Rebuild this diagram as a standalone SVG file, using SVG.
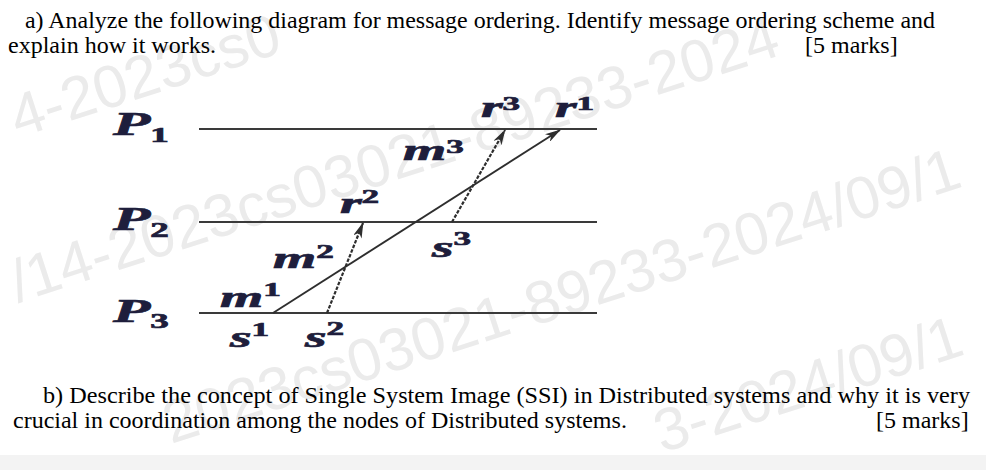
<svg xmlns="http://www.w3.org/2000/svg" width="986" height="470" viewBox="0 0 986 470">
<style>
.q{font-family:"Liberation Serif","Times New Roman",serif;font-size:24px;fill:#000}
.wm{font-family:"Liberation Sans",Arial,sans-serif;font-size:60px;fill:#ebebeb}
.lb{font-family:"Liberation Serif","Times New Roman",serif;font-weight:bold;font-style:italic;font-size:30px;fill:#1e1e3c;stroke:#1e1e3c;stroke-width:0.7}
.sp{font-style:normal;font-size:19px}
.pl{font-family:"Liberation Serif","Times New Roman",serif;font-weight:bold;font-style:italic;font-size:33px;fill:#1e1e3c;stroke:#1e1e3c;stroke-width:0.7}
.sb{font-style:normal;font-size:20px}
.tl{stroke:#3a3a3a;stroke-width:2.2}
.msg{stroke:#2e2e2e;stroke-width:1.9;fill:none;marker-end:url(#ah)}
.dash{stroke-dasharray:3.5 1.5;stroke-width:2.2}
</style>
<defs>
<marker id="ah" viewBox="0 0 16 9" refX="15" refY="4.5" markerWidth="16" markerHeight="9" markerUnits="userSpaceOnUse" orient="auto">
<path d="M0,0 L16,4.5 L0,9 L4.5,4.5 Z" fill="#2e2e2e"/>
</marker>
</defs>
<rect x="0" y="0" width="986" height="470" fill="#fff"/>
<rect x="0" y="455" width="986" height="15" fill="#f3f3f3"/>
<g id="watermark">
<text class="wm" transform="translate(18,138) rotate(-18)">4-2023cs0</text>
<text class="wm" transform="translate(18,303) rotate(-18)">/14-2023cs03021-89233-2024</text>
<text class="wm" transform="translate(171,444) rotate(-18)">2023cs03021-89233-2024/09/1</text>
<text class="wm" transform="translate(662,453) rotate(-18)">3-2024/09/1</text>
</g>
<g id="question-a">
<text class="q" x="25" y="28" textLength="910" lengthAdjust="spacingAndGlyphs">a) Analyze the following diagram for message ordering. Identify message ordering scheme and</text>
<text class="q" x="8" y="53">explain how it works.</text>
<text class="q" x="805" y="53">[5 marks]</text>
</g>
<g id="process-P1">
<line class="tl" x1="199" y1="129" x2="597" y2="129"/>
<g transform="translate(113,135) scale(1.85,1)"><text class="pl">P<tspan class="sb" dy="7">1</tspan></text></g>
</g>
<g id="process-P2">
<line class="tl" x1="199" y1="222" x2="597" y2="222"/>
<g transform="translate(113,230) scale(1.85,1)"><text class="pl">P<tspan class="sb" dy="7">2</tspan></text></g>
</g>
<g id="process-P3">
<line class="tl" x1="199" y1="313" x2="597" y2="313"/>
<g transform="translate(113,322) scale(1.85,1)"><text class="pl">P<tspan class="sb" dy="6">3</tspan></text></g>
</g>
<g id="connectors">
<line class="msg" x1="273" y1="313" x2="560" y2="130"/>
<line class="msg dash" x1="327" y1="313" x2="363" y2="223"/>
<line class="msg dash" x1="452" y1="222" x2="505" y2="130"/>
</g>
<g id="labels">
<g id="lbl-r3" transform="translate(481,117) scale(1.85,1)"><text class="lb">r<tspan class="sp" dy="-7">3</tspan></text></g>
<g id="lbl-r1" transform="translate(555,117) scale(1.85,1)"><text class="lb">r<tspan class="sp" dy="-7">1</tspan></text></g>
<g id="lbl-m3" transform="translate(403,160) scale(1.85,1)"><text class="lb">m<tspan class="sp" dy="-7">3</tspan></text></g>
<g id="lbl-r2" transform="translate(340,213) scale(1.85,1)"><text class="lb">r<tspan class="sp" dy="-10">2</tspan></text></g>
<g id="lbl-s3" transform="translate(432,257) scale(1.85,1)"><text class="lb">s<tspan class="sp" dy="-12">3</tspan></text></g>
<g id="lbl-m2" transform="translate(273,268) scale(1.85,1)"><text class="lb">m<tspan class="sp" dy="-10">2</tspan></text></g>
<g id="lbl-m1" transform="translate(220,307) scale(1.85,1)"><text class="lb">m<tspan class="sp" dy="-11">1</tspan></text></g>
<g id="lbl-s1" transform="translate(230,347) scale(1.85,1)"><text class="lb">s<tspan class="sp" dy="-11">1</tspan></text></g>
<g id="lbl-s2" transform="translate(305,347) scale(1.85,1)"><text class="lb">s<tspan class="sp" dy="-12">2</tspan></text></g>
</g>
<g id="question-b">
<text class="q" x="43" y="403" textLength="927" lengthAdjust="spacingAndGlyphs">b) Describe the concept of Single System Image (SSI) in Distributed systems and why it is very</text>
<text class="q" x="13" y="428">crucial in coordination among the nodes of Distributed systems.</text>
<text class="q" x="876" y="428">[5 marks]</text>
</g>
</svg>
